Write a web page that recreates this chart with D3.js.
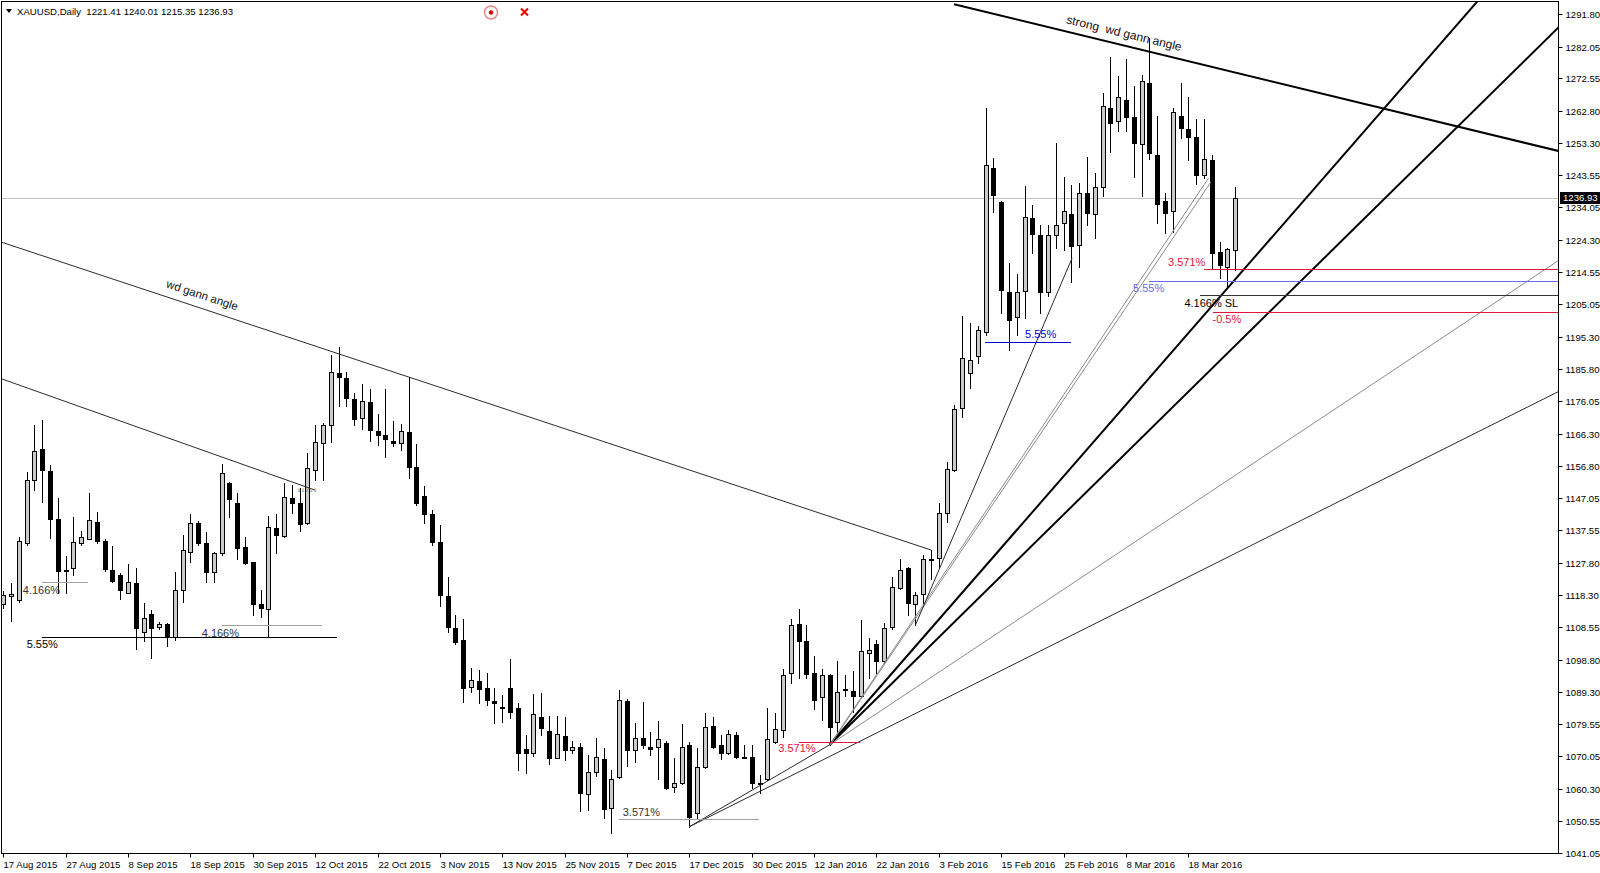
<!DOCTYPE html>
<html lang="en">
<head>
    <meta charset="UTF-8">
    <title>XAUUSD,Daily</title>
    <style>
        body { margin: 0; background: #fff; overflow: hidden; }
        svg text { font-family: "Liberation Sans", Arial, sans-serif; }
        .axis text { font-size: 9.6px; fill: #000; }
        .axis line { stroke: #000; }
        .pct { font-size: 11px; }
        .gann { fill: #111; white-space: pre; }
    </style>
</head>
<body>
<div id="chart" style="width: 1600px;height: 873px;"></div>
<script src="https://cdn.jsdelivr.net/npm/d3@7"></script>
<script>
    // daily bars, 17 Aug 2015 .. 29 Mar 2016
    var opens = [1115.5,1118.0,1116.7,1133.8,1152.5,1161.7,1155.3,1140.9,1125.3,1126.1,
        1133.6,1134.8,1140.1,1134.3,1125.6,1124.1,1118.9,1121.8,1107.2,1112.4,
        1108.7,1109.5,1105.7,1119.6,1131.1,1139.8,1133.6,1125.0,1130.6,1151.7,
        1145.6,1132.6,1127.9,1115.4,1113.9,1138.3,1135.8,1147.0,1145.8,1139.6,
        1155.5,1163.7,1169.0,1184.4,1182.9,1176.6,1171.2,1175.9,1167.2,1166.0,
        1164.3,1163.5,1167.0,1156.5,1147.6,1142.3,1134.1,1118.0,1108.2,1104.7,
        1090.6,1092.5,1090.3,1086.6,1084.8,1090.3,1084.3,1072.0,1070.8,1081.6,
        1077.6,1069.5,1076.1,1071.8,1072.6,1058.6,1065.4,1069.0,1054.4,1063.7,
        1086.6,1071.8,1075.3,1072.8,1072.6,1074.0,1060.9,1061.9,1073.3,1052.9,
        1066.7,1079.0,1073.3,1070.8,1076.3,1069.7,1069.6,1061.8,1063.1,1074.3,
        1077.8,1094.8,1109.5,1104.5,1094.8,1087.6,1094.3,1080.1,1089.9,1089.5,
        1088.0,1100.9,1103.5,1098.3,1108.7,1120.2,1126.1,1115.5,1118.4,1128.8,
        1129.1,1142.6,1155.5,1174.0,1184.5,1189.6,1196.9,1245.9,1235.7,1208.6,
        1201.1,1209.1,1230.7,1225.8,1208.8,1225.8,1229.3,1231.9,1222.8,1238.2,
        1231.9,1240.2,1263.6,1259.8,1266.1,1261.1,1252.9,1271.1,1249.7,1235.9,
        1233.0,1261.3,1257.3,1254.9,1243.7,1248.2,1220.6,1216.3,1221.41];
    var highs = [1119.5,1121.8,1135.4,1155.0,1168.9,1170.5,1157.0,1147.0,1129.9,1141.4,
        1137.4,1148.5,1143.1,1134.8,1132.9,1124.6,1127.3,1126.1,1115.7,1113.7,
        1110.0,1109.9,1124.9,1136.1,1142.3,1140.4,1137.1,1131.1,1157.2,1151.9,
        1148.7,1135.6,1128.1,1119.6,1141.9,1142.4,1151.7,1151.0,1150.0,1160.5,
        1168.9,1169.5,1189.9,1192.2,1184.9,1178.6,1181.1,1179.6,1172.3,1179.6,
        1170.2,1169.3,1183.2,1163.2,1150.7,1143.6,1139.1,1123.6,1112.2,1110.9,
        1096.3,1095.8,1094.8,1090.3,1088.3,1098.9,1086.0,1076.3,1088.6,1089.0,
        1082.0,1082.0,1081.6,1074.6,1074.0,1070.3,1075.5,1072.3,1066.0,1089.8,
        1087.0,1079.8,1086.3,1077.1,1080.5,1074.6,1069.3,1079.6,1074.3,1072.3,
        1082.8,1081.8,1076.3,1077.8,1077.3,1073.3,1073.3,1064.4,1084.3,1082.8,
        1095.9,1110.9,1113.9,1109.2,1099.9,1095.9,1094.6,1098.3,1094.3,1095.3,
        1110.7,1105.2,1104.7,1109.7,1123.4,1128.8,1126.4,1119.2,1130.1,1131.6,
        1145.8,1158.0,1175.0,1201.4,1199.4,1198.5,1263.6,1248.7,1235.9,1217.3,
        1214.1,1240.4,1234.7,1228.8,1228.8,1253.3,1243.2,1240.7,1241.2,1249.0,
        1244.2,1268.3,1279.0,1273.3,1278.3,1270.3,1273.6,1284.5,1261.3,1238.2,
        1263.6,1271.3,1267.1,1260.3,1260.3,1249.7,1223.8,1221.8,1240.01];
    var lows = [1114.2,1110.4,1116.0,1133.1,1149.5,1146.0,1135.1,1118.9,1118.9,1124.1,
        1133.1,1134.8,1133.7,1125.4,1122.1,1116.9,1118.9,1101.9,1104.5,1099.2,
        1108.0,1102.9,1104.8,1116.1,1128.1,1133.0,1122.1,1122.1,1130.0,1141.4,
        1128.8,1127.5,1112.2,1111.7,1105.5,1130.8,1135.5,1142.6,1137.3,1139.3,
        1152.5,1152.5,1164.0,1174.6,1174.6,1169.0,1167.8,1164.3,1163.0,1159.3,
        1162.7,1161.5,1153.0,1145.1,1139.8,1133.1,1115.0,1107.2,1103.5,1086.3,
        1089.3,1086.0,1085.3,1079.8,1080.3,1081.5,1066.0,1064.9,1070.0,1076.3,
        1067.5,1069.3,1068.8,1070.8,1053.6,1053.9,1064.1,1051.4,1047.1,1063.5,
        1067.0,1068.3,1072.3,1070.3,1063.1,1060.1,1059.4,1061.7,1048.9,1051.4,
        1066.5,1072.5,1069.0,1070.6,1069.4,1069.3,1060.4,1059.1,1062.9,1073.8,
        1075.6,1092.0,1093.3,1093.3,1084.1,1080.8,1073.4,1076.8,1088.1,1083.3,
        1087.8,1093.3,1094.8,1097.8,1107.9,1120.0,1112.2,1109.2,1115.9,1122.9,
        1126.1,1140.1,1155.3,1171.5,1180.0,1187.5,1195.9,1232.7,1202.4,1191.4,
        1195.9,1200.9,1220.3,1202.4,1207.5,1221.8,1221.3,1211.8,1216.3,1228.7,
        1224.8,1237.4,1250.7,1256.9,1256.9,1243.2,1237.4,1248.4,1229.4,1226.3,
        1226.5,1254.6,1248.2,1241.0,1242.7,1215.8,1212.8,1210.1,1215.35];
    var closes = [1118.2,1118.6,1134.3,1152.5,1161.2,1155.5,1140.9,1125.4,1125.5,1133.9,
        1135.5,1140.5,1134.2,1125.8,1122.3,1119.6,1122.0,1108.2,1111.2,1108.2,
        1109.5,1105.7,1119.8,1131.6,1139.6,1133.6,1125.1,1130.6,1154.5,1146.8,
        1132.3,1127.8,1115.4,1114.2,1138.4,1136.1,1147.5,1145.7,1139.3,1156.0,
        1164.0,1169.0,1184.7,1183.2,1177.1,1170.9,1176.2,1167.5,1166.0,1164.7,
        1163.5,1167.3,1156.3,1145.8,1142.4,1133.9,1118.2,1108.5,1104.2,1090.3,
        1092.8,1090.0,1086.8,1085.8,1084.3,1083.3,1071.0,1071.0,1082.6,1078.3,
        1069.5,1076.5,1071.8,1072.6,1059.1,1065.3,1069.6,1054.2,1063.1,1086.8,
        1071.8,1075.5,1073.3,1072.0,1075.1,1060.4,1061.9,1072.8,1051.9,1066.8,
        1078.8,1072.8,1070.8,1076.5,1069.6,1069.6,1062.1,1061.9,1075.1,1078.0,
        1094.3,1109.2,1104.5,1094.6,1086.8,1094.3,1078.8,1089.1,1090.0,1088.1,
        1101.4,1101.7,1098.5,1108.2,1120.5,1125.6,1115.7,1118.2,1128.8,1128.6,
        1142.8,1155.7,1173.7,1188.9,1188.5,1197.4,1246.7,1237.7,1209.3,1200.4,
        1208.6,1231.0,1226.0,1208.8,1225.8,1228.8,1233.0,1222.4,1238.4,1232.2,
        1240.0,1264.3,1259.3,1267.1,1261.1,1253.2,1271.9,1250.4,1235.0,1232.2,
        1262.4,1257.6,1255.1,1243.7,1248.4,1220.3,1216.8,1221.5,1236.93];

    var timeTickBars = [0, 8, 16, 24, 32, 40, 48, 56, 64, 72, 80, 88, 96, 104, 112, 120, 128, 136, 144, 152];
    var timeTickLabels = ["17 Aug 2015", "27 Aug 2015", "8 Sep 2015", "18 Sep 2015", "30 Sep 2015",
        "12 Oct 2015", "22 Oct 2015", "3 Nov 2015", "13 Nov 2015", "25 Nov 2015", "7 Dec 2015",
        "17 Dec 2015", "30 Dec 2015", "12 Jan 2016", "22 Jan 2016", "3 Feb 2016", "15 Feb 2016",
        "25 Feb 2016", "8 Mar 2016", "18 Mar 2016"];
    var priceTicks = [1291.80, 1282.05, 1272.55, 1262.80, 1253.30, 1243.55, 1234.05, 1224.30, 1214.55,
        1205.05, 1195.30, 1185.80, 1176.05, 1166.30, 1156.80, 1147.05, 1137.55, 1127.80, 1118.30,
        1108.55, 1098.80, 1089.30, 1079.55, 1070.05, 1060.30, 1050.55, 1041.05];

    // trend lines as [bar, price] anchors
    var trendLines = [
        {pts: [[-1, 1224.2], [119, 1131.6]], ray: false, kind: "thin"},        // wd gann angle
        {pts: [[-1, 1183.4], [40, 1149.5]], ray: false, kind: "thin"},
        {pts: [[121.95, 1294.7], [199.4, 1250.9]], ray: true, kind: "thick"},  // strong
        {pts: [[106, 1073.4], [188.9, 1295.1]], ray: true, kind: "thick"},
        {pts: [[106, 1073.4], [199.4, 1287.6]], ray: true, kind: "thick"},
        {pts: [[106, 1073.4], [199.4, 1218.0]], ray: true, kind: "gray"},
        {pts: [[106, 1073.4], [154.6, 1242.8]], ray: false, kind: "gray"},
        {pts: [[106, 1073.2], [154.9, 1241.6]], ray: false, kind: "gray"},
        {pts: [[117, 1109.2], [137.1, 1218.9]], ray: false, kind: "thin"},
        {pts: [[88, 1048.9], [106, 1073.4]], ray: false, kind: "thin"},
        {pts: [[88, 1048.9], [97, 1059.4]], ray: true, kind: "thin"}
    ];
    var gannLabels = [
        {text: "wd gann angle", line: 0, bar: 25.0, size: 11.5, off: 9},
        {text: "strong  wd gann angle", line: 2, bar: 143.4, size: 12, off: 8}
    ];

    var levelLines = [
        {price: 1122.1, b0: 4.9, b1: 10.9, kind: "gray"},
        {price: 1105.7, b0: 4.9, b1: 42.8, kind: "black"},
        {price: 1109.2, b0: 28.0, b1: 40.9, kind: "gray"},
        {price: 1051.1, b0: 79.0, b1: 96.9, kind: "gray"},
        {price: 1074.3, b0: 102.0, b1: 109.9, kind: "red"},
        {price: 1193.7, b0: 125.9, b1: 136.9, kind: "blue"},
        {price: 1215.5, b0: 154.0, b1: 205, kind: "red"},
        {price: 1212.0, b0: 146.9, b1: 205, kind: "lightblue"},
        {price: 1207.8, b0: 153.5, b1: 205, kind: "dark"},
        {price: 1202.7, b0: 155.2, b1: 205, kind: "red"}
    ];
    var levelLabels = [
        {text: "4.166%", bar: 2.5, price: 1119.7, kind: "dark"},
        {text: "5.55%", bar: 3.0, price: 1103.4, kind: "black"},
        {text: "4.166%", bar: 25.45, price: 1106.9, kind: "dark"},
        {text: "3.571%", bar: 79.45, price: 1053.4, kind: "dark"},
        {text: "3.571%", bar: 99.4, price: 1072.35, kind: "red"},
        {text: "5.55%", bar: 131.06, price: 1196.1, kind: "blue"},
        {text: "3.571%", bar: 149.4, price: 1217.8, kind: "red"},
        {text: "5.55%", bar: 144.9, price: 1209.8, kind: "lightblue"},
        {text: "4.166% SL", bar: 151.5, price: 1205.5, kind: "black"},
        {text: "-0.5%", bar: 155.1, price: 1200.56, kind: "red"}
    ];
    var kindColor = {gray: "#a0a0a0", black: "#000", dark: "#333", red: "#e0143c", blue: "#0000d0", lightblue: "#6a6af0"};

    var width = 1600, height = 873,
        plotRight = 1558, plotBottom = 853;

    var x = d3.scaleLinear().domain([0, 158]).range([3.3, 1235.1]),
        y = d3.scaleLinear().domain([1041.05, 1291.80]).range([853, 14]);

    function px(i) { return Math.round(x(i)) + 0.5; }
    function py(p) { return Math.round(y(p)) + 0.5; }

    var svg = d3.select("#chart").append("svg")
        .attr("width", width)
        .attr("height", height);

    svg.append("defs").append("clipPath").attr("id", "plot")
        .append("rect").attr("x", 2).attr("y", 2)
        .attr("width", plotRight - 2).attr("height", plotBottom - 2);

    var plot = svg.append("g").attr("clip-path", "url(#plot)");

    // current price line
    var last = closes.length - 1;
    plot.append("line")
        .attr("x1", 0).attr("x2", plotRight)
        .attr("y1", py(closes[last])).attr("y2", py(closes[last]))
        .style("stroke", "#c0c0c0")
        .style("shape-rendering", "crispEdges");

    // candles
    var bars = d3.range(opens.length).map(function (i) {
        return {i: i, o: opens[i], h: highs[i], l: lows[i], c: closes[i]};
    });
    var candle = plot.append("g").attr("class", "candles")
        .selectAll("g").data(bars)
        .enter().append("g")
        .style("shape-rendering", "crispEdges");
    candle.append("line")
        .attr("x1", function (d) { return px(d.i); })
        .attr("x2", function (d) { return px(d.i); })
        .attr("y1", function (d) { return Math.round(y(d.h)); })
        .attr("y2", function (d) { return Math.round(y(d.l)) + 1; })
        .style("stroke", "#000");
    candle.append("rect")
        .attr("x", function (d) { return px(d.i) - 2; })
        .attr("width", 4)
        .attr("y", function (d) { return py(Math.max(d.o, d.c)); })
        .attr("height", function (d) {
            return Math.max(1, Math.round(y(Math.min(d.o, d.c))) - Math.round(y(Math.max(d.o, d.c))));
        })
        .style("fill", function (d) { return d.c >= d.o ? "#cacaca" : "#000"; })
        .style("stroke", "#000");

    // trend lines
    function lineEnds(t) {
        var a = t.pts[0], b = t.pts[1];
        if (!t.ray) return [a, b];
        var k = (b[1] - a[1]) / (b[0] - a[0]);
        return [a, [260, a[1] + k * (260 - a[0])]];
    }
    var lineStyle = {
        thin: {stroke: "#2a2a2a", width: 1},
        thick: {stroke: "#000", width: 2},
        gray: {stroke: "#8c8c8c", width: 1}
    };
    plot.append("g").attr("class", "trend")
        .selectAll("path").data(trendLines)
        .enter().append("path")
        .attr("d", function (t) {
            return d3.line()(lineEnds(t).map(function (p) { return [x(p[0]), y(p[1])]; }));
        })
        .style("fill", "none")
        .style("stroke", function (t) { return lineStyle[t.kind].stroke; })
        .style("stroke-width", function (t) { return lineStyle[t.kind].width; });

    // small dotted mark at end of lower left line
    var endPt = trendLines[1].pts[1];
    [-1, 1].forEach(function (s) {
        plot.append("line")
            .attr("x1", x(endPt[0]) - 17).attr("x2", x(endPt[0]) + 2)
            .attr("y1", y(endPt[1]) + s).attr("y2", y(endPt[1]) + s)
            .style("stroke", s < 0 ? "#c8a040" : "#6080c0")
            .style("stroke-dasharray", "2,2");
    });

    // gann labels along lines
    gannLabels.forEach(function (g) {
        var t = trendLines[g.line], a = t.pts[0], b = t.pts[1];
        var p = a[1] + (b[1] - a[1]) * (g.bar - a[0]) / (b[0] - a[0]);
        var ang = Math.atan2(y(b[1]) - y(a[1]), x(b[0]) - x(a[0])) * 180 / Math.PI;
        plot.append("text")
            .attr("class", "gann")
            .attr("transform", "translate(" + x(g.bar) + "," + y(p) + ") rotate(" + ang + ")")
            .attr("y", -g.off)
            .attr("text-anchor", "middle")
            .style("font-size", g.size + "px")
            .text(g.text);
    });

    // level lines and their percent labels
    plot.append("g").selectAll("line").data(levelLines)
        .enter().append("line")
        .attr("x1", function (d) { return x(d.b0); })
        .attr("x2", function (d) { return x(d.b1); })
        .attr("y1", function (d) { return py(d.price); })
        .attr("y2", function (d) { return py(d.price); })
        .style("stroke", function (d) { return kindColor[d.kind]; })
        .style("shape-rendering", "crispEdges");
    plot.append("g").selectAll("text").data(levelLabels)
        .enter().append("text")
        .attr("class", "pct")
        .attr("x", function (d) { return x(d.bar); })
        .attr("y", function (d) { return y(d.price); })
        .attr("dy", "0.36em")
        .style("fill", function (d) { return kindColor[d.kind]; })
        .text(function (d) { return d.text; });

    // frame
    svg.append("rect")
        .attr("x", 1.5).attr("y", 1.5)
        .attr("width", plotRight - 1.5).attr("height", plotBottom - 1.5)
        .style("fill", "none").style("stroke", "#000")
        .style("shape-rendering", "crispEdges");

    // price axis
    var yAxis = svg.append("g")
        .attr("class", "axis")
        .attr("transform", "translate(" + (plotRight + 0.5) + ",0)")
        .call(d3.axisRight(y).tickValues(priceTicks).tickSize(4).tickPadding(3)
            .tickFormat(d3.format(".2f")));
    yAxis.select(".domain").remove();
    yAxis.selectAll(".tick").attr("transform", function (d) { return "translate(0," + py(d) + ")"; });

    // time axis
    var xAxis = svg.append("g")
        .attr("class", "axis")
        .attr("transform", "translate(0," + (plotBottom + 0.5) + ")")
        .call(d3.axisBottom(x).tickValues(timeTickBars).tickSize(4)
            .tickFormat(function (d, i) { return timeTickLabels[i]; }));
    xAxis.select(".domain").remove();
    xAxis.selectAll(".tick").attr("transform", function (d) { return "translate(" + px(d) + ",0)"; });
    xAxis.selectAll(".tick text")
        .attr("text-anchor", "start")
        .attr("x", 0).attr("y", 8).attr("dy", "0.71em");

    // current price box
    var boxY = y(closes[last]);
    svg.append("rect")
        .attr("x", plotRight + 2).attr("y", Math.round(boxY) - 6)
        .attr("width", 40).attr("height", 12)
        .style("fill", "#000");
    svg.append("text")
        .attr("x", plotRight + 5).attr("y", boxY)
        .attr("dy", "0.36em")
        .style("font-size", "9.6px").style("fill", "#fff")
        .text(d3.format(".2f")(closes[last]));

    // header
    svg.append("path")
        .attr("d", "M6,9 L12,9 L9,13 Z")
        .style("fill", "#000");
    var f = d3.format(".2f");
    svg.append("text")
        .attr("x", 17).attr("y", 15)
        .style("font-size", "9.6px")
        .style("white-space", "pre")
        .text("XAUUSD,Daily  " + [opens[last], highs[last], lows[last], closes[last]].map(f).join(" "));

    svg.append("circle").attr("cx", 491).attr("cy", 12.5).attr("r", 6.5)
        .style("fill", "#fff").style("stroke", "#ee8888").style("stroke-width", 1.5);
    svg.append("circle").attr("cx", 491).attr("cy", 12.5).attr("r", 2.2)
        .style("fill", "#dd0000");
    svg.append("path")
        .attr("d", "M521,8.5 L528,15.5 M528,8.5 L521,15.5")
        .style("stroke", "#ee0000").style("stroke-width", 2);
</script>
</body>
</html>
